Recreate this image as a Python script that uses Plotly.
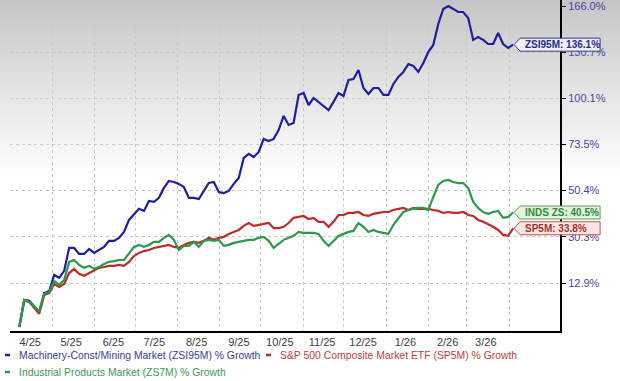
import numpy as np
import pandas as pd
import plotly.graph_objects as go

# ---------------- data ----------------
dates = pd.date_range("2025-04-07", "2026-04-04", periods=100)

machinery = [-1.4, 7.2, 6.9, 4.9, 3.3, 9.5, 10.2, 15.8, 14.8, 17.3,
             25.9, 25.9, 23.6, 23.6, 25.5, 24.0, 25.1, 26.3, 28.7, 28.7,
             29.9, 32.3, 37.3, 39.9, 42.1, 41.2, 45.6, 45.2, 47.0, 51.6,
             54.9, 54.4, 53.5, 52.0, 47.0, 47.0, 46.5, 50.2, 53.9, 54.4,
             49.7, 49.2, 50.2, 53.5, 56.3, 66.3, 68.4, 66.8, 69.4, 76.4,
             75.3, 76.4, 81.3, 89.4, 84.2, 85.3, 102.1, 103.3, 95.9, 100.2,
             97.8, 95.3, 92.9, 97.8, 103.3, 101.4, 111.7, 112.3, 118.3, 106.5,
             102.7, 106.5, 106.5, 102.1, 102.1, 109.1, 113.7, 117.0, 122.4, 121.0,
             117.0, 123.1, 130.8, 135.9, 151.7, 163.7, 166.1, 163.7, 161.2, 161.2,
             156.4, 139.6, 141.8, 139.6, 136.6, 136.6, 144.8, 136.6, 133.7, 136.1]

sp500 = [-1.4, 7.2, 6.5, 4.6, 2.7, 8.9, 9.5, 12.6, 11.6, 12.6,
         16.5, 18.0, 16.2, 15.5, 16.5, 17.3, 18.4, 18.7, 19.1, 19.1,
         19.5, 19.1, 20.6, 22.8, 24.0, 24.7, 25.1, 25.9, 26.3, 26.7,
         27.1, 26.3, 25.9, 27.1, 27.9, 28.3, 27.9, 28.7, 29.9, 29.1,
         29.9, 30.3, 31.5, 32.3, 33.1, 34.8, 36.0, 34.8, 35.2, 35.6,
         36.0, 33.9, 33.9, 34.4, 36.0, 38.2, 38.6, 39.0, 37.7, 38.2,
         36.5, 36.5, 34.4, 36.5, 39.4, 39.4, 40.3, 40.3, 40.7, 39.4,
         39.0, 39.9, 40.3, 40.7, 40.7, 41.6, 42.1, 42.5, 41.6, 42.5,
         42.1, 42.1, 42.1, 41.6, 41.2, 40.3, 40.7, 40.3, 40.3, 40.7,
         39.4, 39.0, 37.3, 36.5, 35.6, 34.4, 33.1, 31.1, 30.7, 33.8]

industrial = [-1.4, 7.2, 6.5, 4.9, 3.6, 9.2, 9.9, 13.7, 12.3, 14.0,
              20.6, 21.3, 19.5, 18.4, 19.1, 18.0, 18.7, 19.8, 20.6, 20.9,
              21.3, 21.3, 24.0, 26.3, 27.1, 26.3, 27.1, 28.3, 28.3, 29.9,
              31.1, 29.1, 25.1, 26.7, 26.7, 28.3, 26.3, 28.7, 29.1, 28.7,
              29.1, 26.7, 27.1, 27.9, 28.3, 28.7, 29.1, 29.1, 29.9, 30.3,
              28.7, 25.9, 27.5, 29.1, 29.9, 30.7, 32.3, 31.9, 31.9, 31.9,
              31.5, 28.7, 26.7, 28.7, 30.7, 31.5, 32.3, 32.7, 36.0, 34.4,
              32.3, 33.1, 32.3, 31.9, 31.5, 35.2, 38.2, 40.7, 41.6, 42.1,
              42.5, 42.5, 41.6, 47.4, 53.0, 54.9, 55.4, 54.4, 53.9, 53.9,
              51.6, 45.2, 42.5, 40.7, 39.9, 40.7, 41.2, 38.2, 38.6, 40.5]

series_names = ["Machinery-Const/Mining Market (ZSI95M) % Growth",
                "S&P 500 Composite Market ETF (SP5M) % Growth",
                "Industrial Products Market (ZS7M) % Growth"]
callout_labels = ["ZSI95M", "SP5M", "INDS ZS"]

x_tick_labels = ["4/25", "5/25", "6/25", "7/25", "8/25", "9/25",
                 "10/25", "11/25", "12/25", "1/26", "2/26", "3/26"]
y_tick_pct = [166.0, 130.7, 100.1, 73.5, 50.4, 30.3, 12.9]

# ---------------- styling ----------------
line_colors = ["#1f1f9c", "#c0282a", "#2a9a4a"]
text_colors = ["#3c3c98", "#c04040", "#3d9a55"]
box_fill = ["#eef0fa", "#fbe8e4", "#e4f3dc"]
box_line = ["#3a3a8c", "#c05050", "#5aa060"]
box_text = ["#2a2a80", "#b02a2a", "#2e8a3e"]

W, H = 620, 381
ML, MR, MT, MB = 10, 60, 0, 50
PW, PH = W - ML - MR, H - MT - MB

x_range = [pd.Timestamp("2025-03-31 05:00"), pd.Timestamp("2026-05-08 09:00")]
y_range = [-0.01153, 0.43310]


def to_ratio(p):
    return 1 + np.asarray(p, dtype=float) / 100.0


fig = go.Figure()
for vals, name, col in zip([machinery, sp500, industrial], series_names, line_colors):
    fig.add_trace(go.Scatter(x=dates, y=to_ratio(vals), mode="lines", name=name,
                             line=dict(color=col, width=2.2), showlegend=False,
                             hoverinfo="skip"))

shapes = []
annotations = []

# background gradient (grey top fading to white)
n_bands = 40
grad_h = 180
for i in range(n_bands):
    py0 = grad_h * i / n_bands
    py1 = grad_h * (i + 1) / n_bands + 0.5
    g = int(round(196 + (255 - 196) * ((i + 0.5) / n_bands) ** 0.9))
    shapes.append(dict(type="rect", xref="paper", yref="paper",
                       x0=-ML / PW, x1=1 + MR / PW,
                       y0=1 - py1 / PH, y1=1 - py0 / PH,
                       fillcolor=f"rgb({g},{g},{g})", line=dict(width=0),
                       layer="below"))

# callout boxes at line ends
span = (x_range[1] - x_range[0]).total_seconds()
tip = (dates[-1] - x_range[0]).total_seconds() / span
half = 6.5 / PH
for vals, lab, fc, lc, tc in zip([machinery, sp500, industrial], callout_labels,
                                 box_fill, box_line, box_text):
    v = vals[-1]
    yc = (np.log10(1 + v / 100) - y_range[0]) / (y_range[1] - y_range[0])
    x_tip = tip + 1 / PW
    x_body = x_tip + 6 / PW
    x_right = x_tip + 86 / PW
    path = (f"M {x_tip},{yc} L {x_body},{yc + half} L {x_right},{yc + half} "
            f"L {x_right},{yc - half} L {x_body},{yc - half} Z")
    shapes.append(dict(type="path", xref="paper", yref="paper", path=path,
                       fillcolor=fc, line=dict(color=lc, width=1), layer="above"))
    annotations.append(dict(xref="paper", yref="paper", x=x_tip + 9 / PW, y=yc,
                            xanchor="left", yanchor="middle", showarrow=False,
                            text=f"<b>{lab}: {v:.1f}%</b>",
                            font=dict(family="Liberation Sans, Arial", size=10, color=tc)))

# manual legend
legend_pos = [(5, 355), (266, 355), (5, 372)]
for (lx, ly), name, lc, tc in zip(legend_pos, series_names, line_colors, text_colors):
    yp = 1 - ly / PH
    shapes.append(dict(type="line", xref="paper", yref="paper",
                       x0=(lx - ML) / PW, x1=(lx + 5 - ML) / PW, y0=yp, y1=yp,
                       line=dict(color=lc, width=2.5)))
    annotations.append(dict(xref="paper", yref="paper", x=(lx + 12 - ML) / PW, y=yp,
                            xanchor="left", yanchor="middle", showarrow=False,
                            text=name,
                            font=dict(family="Liberation Sans, Arial", size=10.4, color=tc)))

label_dates = pd.date_range("2025-04-01", "2026-03-01", freq="MS") + pd.Timedelta(days=14)
grid_dates = pd.date_range("2025-05-01", "2026-04-01", freq="MS")

fig.update_layout(
    width=W, height=H,
    margin=dict(l=ML, r=MR, t=MT, b=MB, autoexpand=False),
    paper_bgcolor="white", plot_bgcolor="rgba(0,0,0,0)",
    shapes=shapes, annotations=annotations,
    showlegend=False,
    xaxis=dict(type="date", range=x_range, automargin=False,
               tickmode="array", tickvals=label_dates, ticktext=x_tick_labels,
               showgrid=False, ticks="", zeroline=False,
               showline=True, linecolor="black", linewidth=2,
               tickfont=dict(family="Liberation Sans, Arial", size=11, color="#404040"),
               minor=dict(tickmode="array", tickvals=grid_dates, showgrid=True,
                          gridcolor="#c8c8c8", griddash="dot", gridwidth=1, ticks="")),
    yaxis=dict(type="log", range=y_range, side="right", automargin=False,
               tickmode="array", tickvals=to_ratio(y_tick_pct),
               ticktext=[f"{v:.1f}%" for v in y_tick_pct],
               ticklabeloverflow="allow",
               showgrid=True, gridcolor="#c8c8c8", griddash="dot", gridwidth=1,
               ticks="outside", ticklen=4, tickcolor="black", tickwidth=1,
               showline=True, linecolor="black", linewidth=2, zeroline=False,
               tickfont=dict(family="Liberation Sans, Arial", size=11, color="#4646a0")),
)

fig.write_html("out.html", config={"displayModeBar": False},
               post_script="document.body.style.margin='0';document.body.style.overflow='hidden';")
